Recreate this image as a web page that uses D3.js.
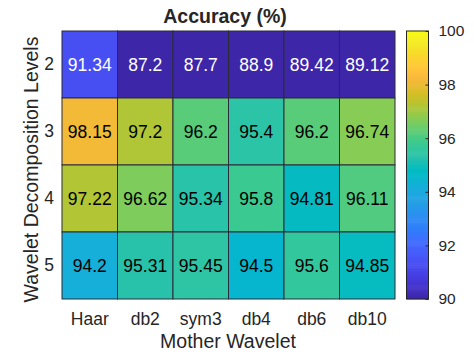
<!DOCTYPE html>
<html>
<head>
<meta charset="utf-8">
<script src="https://cdn.jsdelivr.net/npm/d3@7"></script>
<style>
  html, body { margin: 0; padding: 0; background: #fff; }
  svg { display: block; font-family: "Liberation Sans", Arial, Helvetica, sans-serif; }
</style>
</head>
<body>
<svg id="chart" width="474" height="355"></svg>
<script>
// ---- data ----
const motherWavelets = ["Haar", "db2", "sym3", "db4", "db6", "db10"];
const decompLevels = ["2", "3", "4", "5"];
const level2 = [91.34, 87.2, 87.7, 88.9, 89.42, 89.12];
const level3 = [98.15, 97.2, 96.2, 95.4, 96.2, 96.74];
const level4 = [97.22, 96.62, 95.34, 95.8, 94.81, 96.11];
const level5 = [94.2, 95.31, 95.45, 94.5, 95.6, 94.85];
const levelRows = [level2, level3, level4, level5];
const colorLimits = [90, 100];
const colorbarTicks = [90, 92, 94, 96, 98, 100];
const titleText = "Accuracy (%)";
const xTitle = "Mother Wavelet";
const yTitle = "Wavelet Decomposition Levels";

// parula colormap anchors
const parula = [
[0.2422,0.1504,0.6603],[0.2504,0.1650,0.7076],[0.2578,0.1818,0.7511],[0.2647,0.1978,0.7952],
[0.2706,0.2147,0.8364],[0.2751,0.2342,0.8710],[0.2783,0.2559,0.8991],[0.2803,0.2782,0.9221],
[0.2813,0.3006,0.9414],[0.2810,0.3228,0.9579],[0.2795,0.3447,0.9717],[0.2760,0.3667,0.9829],
[0.2699,0.3892,0.9906],[0.2602,0.4123,0.9952],[0.2440,0.4358,0.9988],[0.2206,0.4603,0.9973],
[0.1963,0.4847,0.9892],[0.1834,0.5074,0.9798],[0.1786,0.5289,0.9682],[0.1764,0.5499,0.9520],
[0.1687,0.5703,0.9359],[0.1540,0.5902,0.9218],[0.1460,0.6091,0.9079],[0.1380,0.6276,0.8973],
[0.1248,0.6459,0.8883],[0.1113,0.6635,0.8763],[0.0952,0.6798,0.8598],[0.0689,0.6948,0.8394],
[0.0297,0.7082,0.8163],[0.0036,0.7203,0.7917],[0.0067,0.7312,0.7660],[0.0433,0.7411,0.7394],
[0.0964,0.7500,0.7120],[0.1408,0.7584,0.6842],[0.1717,0.7670,0.6554],[0.1938,0.7758,0.6251],
[0.2161,0.7843,0.5923],[0.2470,0.7918,0.5567],[0.2906,0.7973,0.5188],[0.3406,0.8008,0.4789],
[0.3909,0.8029,0.4354],[0.4456,0.8024,0.3909],[0.5044,0.7993,0.3480],[0.5616,0.7942,0.3045],
[0.6174,0.7876,0.2612],[0.6720,0.7793,0.2227],[0.7242,0.7698,0.1910],[0.7738,0.7598,0.1646],
[0.8203,0.7498,0.1535],[0.8634,0.7406,0.1596],[0.9035,0.7330,0.1774],[0.9393,0.7288,0.2100],
[0.9728,0.7298,0.2394],[0.9956,0.7434,0.2371],[0.9970,0.7659,0.2199],[0.9952,0.7893,0.2028],
[0.9892,0.8136,0.1885],[0.9786,0.8386,0.1766],[0.9676,0.8639,0.1643],[0.9610,0.8890,0.1537],
[0.9597,0.9135,0.1423],[0.9628,0.9373,0.1265],[0.9691,0.9606,0.1064],[0.9769,0.9839,0.0805]
].map(c => d3.rgb(c[0]*255, c[1]*255, c[2]*255).formatHex());

const interp = d3.piecewise(d3.interpolateRgb, parula);
const color = d3.scaleSequential(interp).domain(colorLimits).clamp(true);

const svg = d3.select("#chart");
const textColor = "#262626";

const x = d3.scaleBand().domain(motherWavelets).range([62, 395]).padding(0);
const y = d3.scaleBand().domain(decompLevels).range([31, 299]).padding(0);

const cells = [];
levelRows.forEach((row, i) => row.forEach((v, j) => cells.push({lvl: decompLevels[i], mw: motherWavelets[j], v})));

const g = svg.append("g");
g.selectAll("rect.cell").data(cells).join("rect")
  .attr("class", "cell")
  .attr("x", d => x(d.mw)).attr("y", d => y(d.lvl))
  .attr("width", x.bandwidth()).attr("height", y.bandwidth())
  .attr("fill", d => color(d.v))
  .attr("stroke", "#2b2b3a").attr("stroke-width", 1);

function lum(c) {
  const r = d3.rgb(c);
  return (0.2126 * r.r + 0.7152 * r.g + 0.0722 * r.b) / 255;
}

g.selectAll("text.val").data(cells).join("text")
  .attr("class", "val")
  .attr("x", d => x(d.mw) + x.bandwidth() / 2)
  .attr("y", d => y(d.lvl) + y.bandwidth() / 2)
  .attr("text-anchor", "middle")
  .attr("dominant-baseline", "central")
  .attr("font-size", "17.5px")
  .attr("fill", d => lum(color(d.v)) < 0.5 ? "#ffffff" : "#000000")
  .text(d => String(d.v));

// axes (tick labels only)
const xAxis = svg.append("g").attr("transform", "translate(0,299)")
  .call(d3.axisBottom(x).tickSize(0).tickPadding(20));
xAxis.select(".domain").remove();
xAxis.selectAll("text").attr("font-size", "17.5px").attr("fill", textColor)
  .attr("font-family", "Liberation Sans, Arial, sans-serif").attr("dy", "0.71em").attr("y", 14);

const yAxis = svg.append("g").attr("transform", "translate(62,0)")
  .call(d3.axisLeft(y).tickSize(0).tickPadding(8));
yAxis.select(".domain").remove();
yAxis.selectAll("text").attr("font-size", "17.5px").attr("fill", textColor)
  .attr("font-family", "Liberation Sans, Arial, sans-serif");

// titles
svg.append("text").attr("x", 225).attr("y", 23).attr("text-anchor", "middle")
  .attr("font-size", "19.5px").attr("font-weight", "bold").attr("fill", textColor)
  .text(titleText);
svg.append("text").attr("x", 228).attr("y", 348).attr("text-anchor", "middle")
  .attr("font-size", "19.5px").attr("fill", textColor).text(xTitle);
svg.append("text").attr("transform", "translate(38,169.5) rotate(-90)")
  .attr("text-anchor", "middle").attr("font-size", "19.5px").attr("fill", textColor)
  .text(yTitle);

// colorbar
const cbX = 406.5, cbW = 22;
const cy = d3.scaleLinear().domain(colorLimits).range([299, 31]);
const steps = d3.range(256).map(i => colorLimits[0] + (i + 0.5) * (colorLimits[1] - colorLimits[0]) / 256);
const stepH = (cy(colorLimits[0]) - cy(colorLimits[1])) / 256;
svg.append("g").selectAll("rect").data(steps).join("rect")
  .attr("x", cbX).attr("width", cbW)
  .attr("y", d => cy(d) - stepH / 2 - 0.3).attr("height", stepH + 0.6)
  .attr("fill", d => color(d));
svg.append("rect").attr("x", cbX).attr("y", 31).attr("width", cbW).attr("height", 268)
  .attr("fill", "none").attr("stroke", "#262626").attr("stroke-width", 1);

const cbAxis = svg.append("g").attr("transform", `translate(${cbX + cbW},0)`)
  .call(d3.axisRight(cy).tickValues(colorbarTicks).tickSize(-3).tickPadding(10));
cbAxis.select(".domain").remove();
cbAxis.selectAll("line").attr("stroke", "#262626");
cbAxis.selectAll("text").attr("font-size", "15.5px").attr("fill", textColor)
  .attr("font-family", "Liberation Sans, Arial, sans-serif");
</script>
</body>
</html>
